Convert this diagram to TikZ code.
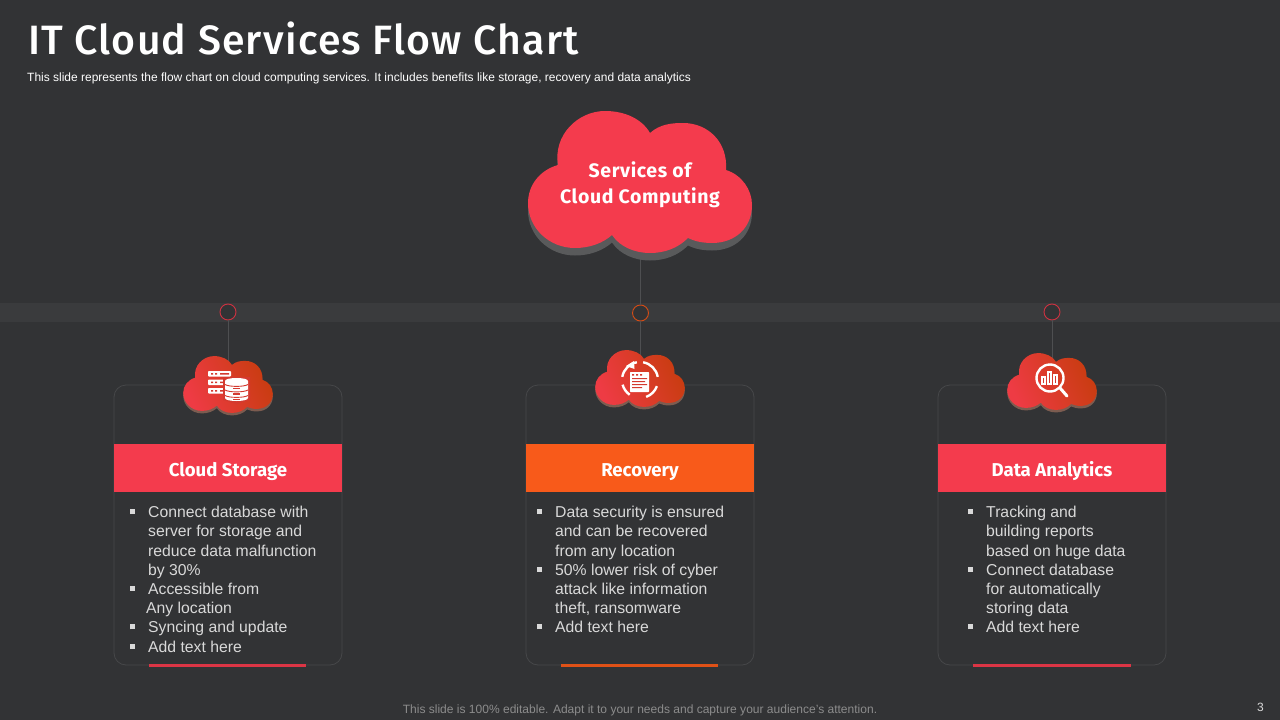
\documentclass[tikz,border=0pt]{standalone}
\usepackage{fontspec}
\setmainfont{Liberation Sans}
\newfontfamily\headfont{Fira Sans}
\newfontfamily\titlefont[LetterSpace=3,UprightFont=* Medium]{Fira Sans}
\newfontfamily\cloudfont[LetterSpace=3]{Fira Sans}
\definecolor{bgc}{HTML}{323335}
\definecolor{bandc}{HTML}{3A3B3D}
\definecolor{redc}{HTML}{F43B4D}
\definecolor{orangec}{HTML}{F85A1A}
\definecolor{bodyc}{HTML}{D9D9D9}
\definecolor{linec}{HTML}{4E4F51}
\definecolor{cardc}{HTML}{464749}
\definecolor{iconred}{HTML}{D43A30}
\definecolor{cloudA}{HTML}{EE3B44}
\definecolor{cloudB}{HTML}{C83C10}
\definecolor{cloudshadow}{HTML}{7C5C50}
\definecolor{bigshadow}{HTML}{595A5B}
\newcommand{\cloudpath}{(650,133) .. controls (660,124) and (672,123) .. (683,123) .. controls (708,123) and (728,142) .. (726,170) .. controls (742,175) and (752,190) .. (752,205) .. controls (752,228) and (735,243) .. (712,243) .. controls (702,243) and (694,241) .. (688,238) .. controls (678,248) and (665,253) .. (650,253) .. controls (635,253) and (620,247) .. (612,235) .. controls (603,243) and (590,248) .. (575,248) .. controls (549,248) and (528,228) .. (528,203) .. controls (528,185) and (540,170) .. (558,165) .. controls (553,135) and (578,111) .. (605,111) .. controls (625,111) and (642,119) .. (650,133) -- cycle}
\newcommand{\bul}{\leavevmode\llap{\rule[3.5pt]{5pt}{5pt}\hspace{13pt}}}
\newcommand{\smallcloud}[2]{%
  \begin{scope}[shift={(#1,#2)},scale=.4,shift={(-640,-182)}]
    \fill[cloudshadow] \cloudpath;
  \end{scope}
  \begin{scope}[shift={(#1,#2-2.5)},scale=.4,shift={(-640,-182)}]
    \shade[left color=cloudA,right color=cloudB,shading angle=115] \cloudpath;
  \end{scope}}
\tikzset{
  x=1pt,y=-1pt,
  cardbox/.style={draw=cardc,line width=.8pt,rounded corners=12pt},
  bandbox/.style={minimum width=228pt,minimum height=48pt,inner sep=0pt,text=white,text height=20pt,text depth=4pt,font=\headfont\bfseries\fontsize{18.6}{20}\selectfont},
  bodytext/.style={anchor=north west,inner sep=0pt,align=left,text=bodyc,font=\fontsize{15.75}{19.2}\selectfont},
  dotnode/.style={circle,minimum size=16pt,inner sep=0pt,fill=bgc,line width=.9pt},
  wire/.style={draw=linec,line width=.8pt},
}
\begin{document}
\begin{tikzpicture}
\useasboundingbox (0,0) rectangle (1280,720);
\fill[bgc] (0,0) rectangle (1280,720);
\fill[bandc] (0,303) rectangle (1280,322);

\node[anchor=west,inner sep=0pt,text=white,font=\titlefont\fontsize{41}{46}\selectfont] (title) at (28,38.5) {IT Cloud Services Flow Chart};
\node[anchor=west,inner sep=0pt,text=white,font=\fontsize{11.98}{14}\selectfont] (subtitle) at (27,78.5) {This slide represents the flow chart on cloud computing services. It includes benefits like storage, recovery and data analytics};

% dots and connectors
\node[dotnode,draw=redc!85!black] (d1) at (228,312) {};
\node[dotnode,draw=orangec!85!black] (d2) at (640.5,313) {};
\node[dotnode,draw=redc!85!black] (d3) at (1052,312) {};
\coordinate (c0) at (640.5,250);
\coordinate (c1) at (228,362);
\coordinate (c2) at (640.5,355);
\coordinate (c3) at (1052,358);
\draw[wire] (c0) -- (d2);
\draw[wire] (d1) -- (c1);
\draw[wire] (d2) -- (c2);
\draw[wire] (d3) -- (c3);

% cards
\draw[cardbox] (114,385) rectangle (342,665);
\draw[cardbox] (526,385) rectangle (754,665);
\draw[cardbox] (938,385) rectangle (1166,665);
\node[bandbox,fill=redc] (h1) at (228,468) {Cloud Storage};
\node[bandbox,fill=orangec] (h2) at (640,468) {Recovery};
\node[bandbox,fill=redc] (h3) at (1052,468) {Data Analytics};
\fill[redc!90!black] (149,664) rectangle (306,666.5);
\fill[orangec!90!black] (561,664) rectangle (718,666.5);
\fill[redc!90!black] (973,664) rectangle (1131,666.5);

\node[bodytext] (b1) at (148,506) {\bul Connect database with\\server for storage and\\reduce data malfunction\\by 30\%\\\bul Accessible from\\\hspace*{-2pt}Any location\\\bul Syncing and update\\\bul Add text here};
\node[bodytext] (b2) at (555,506) {\bul Data security is ensured\\and can be recovered\\from any location\\\bul 50\% lower risk of cyber\\attack  like information\\theft, ransomware\\\bul Add text here};
\node[bodytext] (b3) at (986,506) {\bul Tracking and\\building reports\\based on huge data\\\bul Connect database\\for automatically\\storing data\\\bul Add text here};

% main cloud
\begin{scope}[shift={(0,7.5)}]
\fill[bigshadow] \cloudpath;
\end{scope}
\fill[redc] \cloudpath;
\node[align=center,inner sep=0pt,text=white,font=\cloudfont\bfseries\fontsize{19.5}{26}\selectfont] (main) at (640,185) {Services of\\Cloud Computing};

% small clouds
\smallcloud{228}{387}
\smallcloud{640}{381}
\smallcloud{1052}{384}

% icon: servers and database
\foreach \y in {371,379.5,388}{
  \fill[white,rounded corners=.8pt] (208,\y) rectangle (231,\y+5.5);
  \fill[iconred] (211,\y+2) rectangle (213,\y+3.5) (215,\y+2) rectangle (217,\y+3.5) (220,\y+2) rectangle (229,\y+3.5);
}
\fill[iconred] (223,377) -- (250,377) -- (250,400) -- (236.5,404) -- (223,400) -- cycle;
\fill[white] (225,381) .. controls (225,377) and (248,377) .. (248,381) -- (248,398) .. controls (248,402) and (225,402) .. (225,398) -- cycle;
\foreach \y in {384.5,390,395.5}{
  \draw[iconred,line width=.9pt] (225,\y) .. controls (229,\y+2.5) and (244,\y+2.5) .. (248,\y);
  \fill[iconred] (233,\y+3.4) rectangle (240,\y+4.8);
}

% icon: recovery
\draw[white,line width=2.4pt] (640,380) ++(20:18) arc[start angle=20,end angle=70,radius=18];
\draw[white,line width=2.4pt] (640,380) ++(-10:18) arc[start angle=-10,end angle=-80,radius=18];
\draw[white,line width=2.4pt] (640,380) ++(-100:18) arc[start angle=-100,end angle=-170,radius=18];
\draw[white,line width=2.4pt] (640,380) ++(165:18) arc[start angle=165,end angle=125,radius=18];
\fill[white] (626,366) -- (634,361) -- (634.5,369) -- cycle;
\fill[white,rounded corners=.6pt] (630,372) rectangle (649,392);
\fill[iconred] (632,374) rectangle (634,375.5) (636,374) rectangle (638,375.5) (640,374) rectangle (642,375.5);
\fill[iconred] (632,378) rectangle (647,379.2) (632,381) rectangle (645,382.2) (632,384) rectangle (647,385.2) (632,387) rectangle (642,388.2);

% icon: analytics
\draw[white,line width=2.4pt] (1050,378) circle[radius=13.5];
\draw[white,line width=3pt,line cap=round] (1060,388) -- (1067,396);
\draw[white,line width=1.3pt,fill=iconred] (1042,377) rectangle (1045,384);
\draw[white,line width=1.3pt,fill=iconred] (1048,372) rectangle (1051,384);
\draw[white,line width=1.3pt,fill=iconred] (1054,375) rectangle (1057,384);

\node[inner sep=0pt,text=black!45!white,font=\fontsize{12.03}{14}\selectfont] (foot) at (640,710) {This slide is 100\% editable. Adapt it to your needs and capture your audience's attention.};
\node[inner sep=0pt,text=bodyc,font=\fontsize{12}{14}\selectfont] (pg) at (1260.5,707.5) {3};
\end{tikzpicture}
\end{document}
